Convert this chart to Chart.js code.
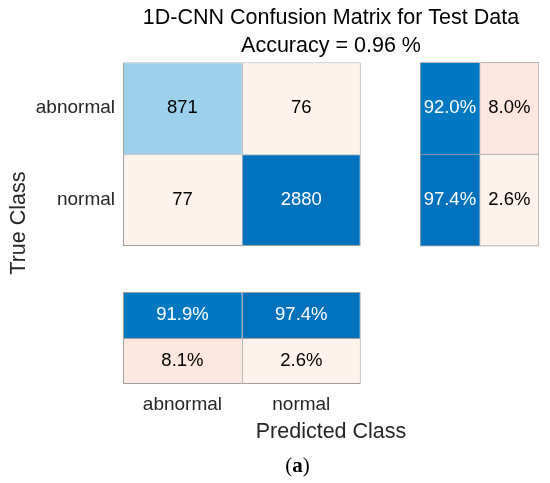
<!DOCTYPE html>
<html>
<head>
<meta charset="utf-8">
<title>1D-CNN Confusion Matrix for Test Data</title>
<script src="https://cdn.jsdelivr.net/npm/chart.js@4.4.0/dist/chart.umd.min.js"></script>
<style>
  html, body { margin: 0; padding: 0; background: #fff; }
  #wrap { position: relative; width: 550px; height: 483px; overflow: hidden; }
  #caption {
    position: absolute; left: 247px; width: 101px; top: 453px;
    text-align: center; line-height: 24px;
    font-family: "Liberation Serif", "Times New Roman", serif; font-size: 21px; color: #000;
  }
</style>
</head>
<body>
<div id="wrap">
  <canvas id="chart" width="550" height="483"></canvas>
  <div id="caption">(<b>a</b>)</div>
</div>
<script>
"use strict";

const classNames = ["abnormal", "normal"];
// rows = true class, columns = predicted class
const counts = [
  [871, 76],
  [77, 2880],
];
// row summary (per true class), in %
const rowCorrect = [92.0, 97.4];
const rowWrong = [8.0, 2.6];
// column summary (per predicted class), in %
const colCorrect = [91.9, 97.4];
const colWrong = [8.1, 2.6];
const accuracy = 0.96;

// cell colours
const cellColors = [
  ["#9dd0eb", "#fef2ec"],
  ["#fef2ec", "#0072bd"],
];
const rowCorrectColors = ["#0079c2", "#0072bd"];
const rowWrongColors = ["#fde7df", "#fef2ec"];
const colCorrectColors = ["#0079c2", "#0072bd"];
const colWrongColors = ["#fde7df", "#fef2ec"];

const fontFamily = "'Liberation Sans', Arial, sans-serif";
Chart.defaults.font.family = fontFamily;

const n = classNames.length;
const gap = 0.5;          // space between matrix and summaries
const sumSize = 0.5;      // summary cell size
const extent = n + gap + 2 * sumSize;

function pct(v) {
  return v.toFixed(1) + "%";
}

function isDark(hex) {
  const r = parseInt(hex.substr(1, 2), 16);
  const g = parseInt(hex.substr(3, 2), 16);
  const b = parseInt(hex.substr(5, 2), 16);
  return (0.299 * r + 0.587 * g + 0.114 * b) < 140;
}

// one dataset per row of cells
function cellSet(cells, barPercentage) {
  return {
    data: cells.map((c) => ({ x: c.x, y: c.y })),
    backgroundColor: cells.map((c) => c.color),
    borderColor: "#a0a0a0",
    borderWidth: (ctx) => {
      const c = cells[ctx.dataIndex];
      return { top: 1, left: 1, right: c.lastCol ? 1 : 0, bottom: c.lastRow ? 1 : 0 };
    },
    texts: cells.map((c) => c.text),
    barPercentage: barPercentage,
  };
}

const datasets = [];

// main matrix
for (let i = 0; i < n; i++) {
  const cells = [];
  for (let j = 0; j < n; j++) {
    cells.push({
      x: j + 0.5,
      y: [i, i + 1],
      color: cellColors[i][j],
      text: String(counts[i][j]),
      lastCol: j === n - 1,
      lastRow: i === n - 1,
    });
  }
  datasets.push(cellSet(cells, 2));
}

// column summary under the matrix
const colTop = n + gap;
datasets.push(cellSet(classNames.map((c, j) => ({
  x: j + 0.5, y: [colTop, colTop + sumSize], color: colCorrectColors[j],
  text: pct(colCorrect[j]), lastCol: j === n - 1, lastRow: false,
})), 2));
datasets.push(cellSet(classNames.map((c, j) => ({
  x: j + 0.5, y: [colTop + sumSize, colTop + 2 * sumSize], color: colWrongColors[j],
  text: pct(colWrong[j]), lastCol: j === n - 1, lastRow: true,
})), 2));

// row summary right of the matrix
const rowLeft = n + gap;
datasets.push(cellSet(classNames.map((c, i) => ({
  x: rowLeft + sumSize / 2, y: [i, i + 1], color: rowCorrectColors[i],
  text: pct(rowCorrect[i]), lastCol: false, lastRow: i === n - 1,
})), 1));
datasets.push(cellSet(classNames.map((c, i) => ({
  x: rowLeft + 1.5 * sumSize, y: [i, i + 1], color: rowWrongColors[i],
  text: pct(rowWrong[i]), lastCol: true, lastRow: i === n - 1,
})), 1));

function classTick(value) {
  for (let k = 0; k < n; k++) {
    if (Math.abs(value - (k + 0.5)) < 1e-6) return classNames[k];
  }
  return "";
}

// writes the value into each cell
const cellText = {
  id: "cellText",
  afterDatasetsDraw(chart) {
    const ctx = chart.ctx;
    ctx.save();
    ctx.font = "18.5px " + fontFamily;
    ctx.textAlign = "center";
    ctx.textBaseline = "middle";
    chart.data.datasets.forEach((ds, i) => {
      chart.getDatasetMeta(i).data.forEach((bar, j) => {
        const p = bar.getProps(["x", "y", "base"], true);
        ctx.fillStyle = isDark(ds.backgroundColor[j]) ? "#ffffff" : "#000000";
        ctx.fillText(ds.texts[j], p.x, (p.y + p.base) / 2);
      });
    });
    ctx.restore();
  },
};

new Chart(document.getElementById("chart"), {
  type: "bar",
  data: { datasets: datasets },
  plugins: [cellText],
  options: {
    responsive: false,
    animation: false,
    grouped: false,
    categoryPercentage: 1,
    borderSkipped: false,
    layout: { padding: { left: 0, right: 11, top: 0, bottom: 0 } },
    scales: {
      x: {
        type: "linear",
        min: 0,
        max: extent,
        offset: false,
        grid: { display: false, drawTicks: false },
        border: { display: false },
        ticks: {
          stepSize: 0.5,
          autoSkip: false,
          maxRotation: 0,
          padding: 9,
          color: "#262626",
          font: { size: 19 },
          callback: classTick,
        },
        title: {
          display: true,
          text: "Predicted Class",
          color: "#262626",
          font: { size: 21.5 },
          padding: { top: 0, bottom: 38 },
        },
        afterFit(scale) {
          scale.height = 99;
        },
      },
      y: {
        type: "linear",
        min: 0,
        max: extent,
        reverse: true,
        offset: false,
        grid: { display: false, drawTicks: false },
        border: { display: false },
        ticks: {
          stepSize: 0.5,
          autoSkip: false,
          padding: 8,
          color: "#262626",
          font: { size: 19 },
          callback: classTick,
        },
        title: {
          display: true,
          text: "True Class",
          color: "#262626",
          font: { size: 21.5 },
          padding: { top: 6, bottom: 0 },
        },
        afterFit(scale) {
          scale.width = 123;
        },
      },
    },
    plugins: {
      legend: { display: false },
      tooltip: { enabled: false },
      title: {
        display: true,
        fullSize: false,
        text: ["1D-CNN Confusion Matrix for Test Data", "Accuracy = " + accuracy + " %"],
        color: "#000000",
        font: { size: 21.5, weight: "normal", lineHeight: 1.32 },
        padding: { top: 4, bottom: 1.5 },
      },
    },
  },
});
</script>
</body>
</html>
